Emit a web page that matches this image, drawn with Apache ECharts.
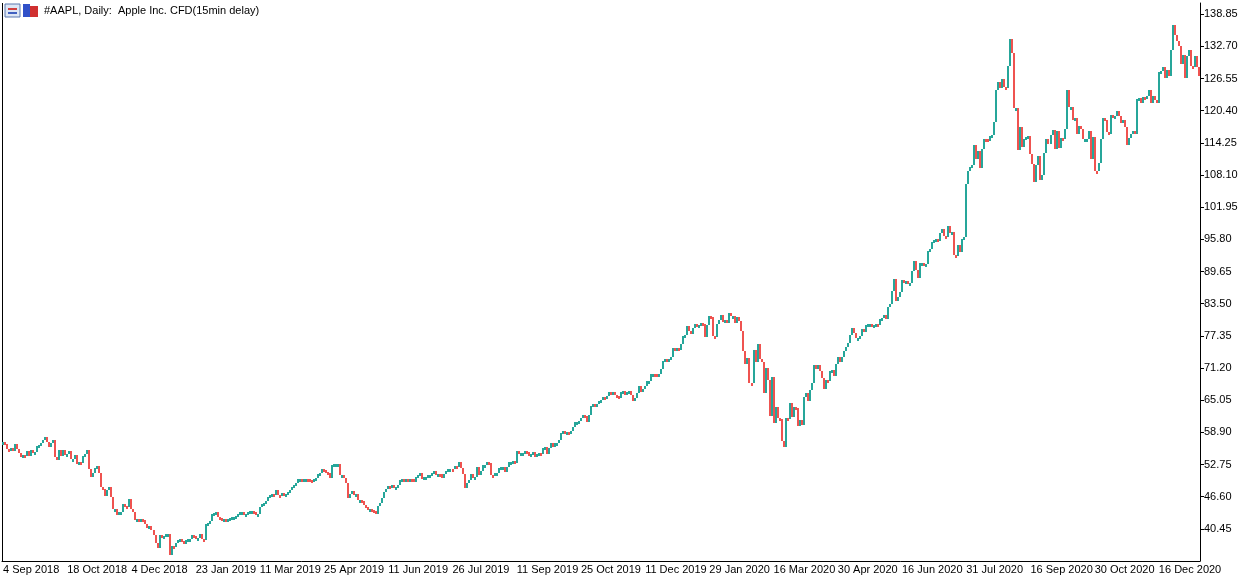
<!DOCTYPE html>
<html><head><meta charset="utf-8">
<script src="https://cdn.jsdelivr.net/npm/echarts@6/dist/echarts.min.js"></script>
<style>html,body{margin:0;padding:0;background:#fff}#c{width:1242px;height:577px}</style>
</head><body><div id="c"></div>
<script>
const tickLabels=["4 Sep 2018","18 Oct 2018","4 Dec 2018","23 Jan 2019","11 Mar 2019","25 Apr 2019","11 Jun 2019","26 Jul 2019","11 Sep 2019","25 Oct 2019","11 Dec 2019","29 Jan 2020","16 Mar 2020","30 Apr 2020","16 Jun 2020","31 Jul 2020","16 Sep 2020","30 Oct 2020","16 Dec 2020"];
const closes2018=[57.1,56.7,55.8,55.3,56.0,55.3,56.7,55.8,54.9,54.1,54.6,54.4,55.3,54.3,55.5,55.0,55.2,56.2,56.4,
56.8,57.4,58.0,57.0,56.1,56.8,57.5,54.1,53.6,55.5,54.3,55.6,54.5,54.8,55.4,53.8,53.8,54.6,52.8,53.3,53.0,54.3,54.7,
55.6,51.9,50.4,51.2,52.1,52.4,51.2,48.4,48.0,46.7,47.9,48.4,46.5,44.2,44.2,43.1,43.6,43.6,45.2,44.9,44.6,
46.2,44.2,43.7,42.1,42.4,42.3,42.3,42.2,41.4,40.7,41.0,40.2,39.2,37.7,36.7,39.3,39.0,39.1,39.4];
const closes2019=[39.5,35.5,37.1,37.0,37.7,38.3,38.5,38.1,37.5,38.3,38.5,38.6,39.2,39.1,38.6,38.7,39.4,38.5,38.3,41.3,41.6,
41.9,43.3,43.5,43.6,42.7,42.6,42.4,42.4,42.3,42.3,42.5,42.7,42.8,43.0,43.2,43.6,43.6,43.3,43.3,
43.7,43.9,43.9,43.6,43.1,43.2,44.7,45.2,45.4,45.7,46.5,46.9,47.2,46.9,47.8,47.0,46.7,47.3,47.0,47.2,47.5,
47.8,48.5,48.8,49.3,50.0,50.0,49.9,49.9,50.0,49.9,49.7,49.6,49.9,50.2,51.0,51.1,51.8,51.7,51.3,51.1,50.2,
52.6,52.8,52.9,52.9,50.7,50.7,50.2,49.3,46.4,47.1,47.6,47.0,47.2,45.9,46.0,45.8,45.1,44.7,44.1,44.3,44.1,43.8,
43.3,44.9,45.4,46.3,47.5,48.1,48.7,48.5,48.8,48.2,48.5,48.9,49.7,49.9,49.7,49.9,49.7,50.0,49.9,49.5,
50.4,50.7,51.1,50.0,50.3,50.4,50.8,50.8,51.1,51.5,50.8,51.0,50.9,50.1,51.0,51.6,51.8,51.9,51.8,52.4,52.2,53.3,
52.1,51.0,48.3,49.3,49.8,50.9,50.2,50.4,52.2,50.7,51.6,52.6,52.6,53.2,53.0,50.7,50.6,51.1,51.2,52.1,52.2,52.2,
51.4,52.3,53.3,53.3,53.5,53.1,55.3,54.7,54.9,55.0,55.3,55.1,54.4,54.7,55.2,54.2,54.7,55.0,54.7,56.0,
56.1,54.7,55.9,56.8,56.1,56.8,56.8,57.5,58.8,59.1,59.0,59.0,58.8,59.1,59.9,60.8,60.9,61.0,61.6,62.3,62.0,60.8,62.2,
64.0,64.4,64.3,64.3,64.9,65.0,65.6,65.5,65.8,66.6,66.4,66.6,66.1,65.8,65.4,66.6,66.8,66.0,66.6,66.8,
66.0,64.9,65.4,66.4,67.7,66.7,67.1,67.7,68.8,68.8,70.0,70.1,70.0,69.9,70.0,71.1,72.45,72.9,72.4,72.9,73.4];
const closes2020=[75.1,74.4,75.0,74.6,75.8,77.4,77.6,79.2,78.2,77.8,78.8,79.7,79.1,79.4,79.8,79.6,77.2,79.4,81.1,80.9,77.4,
77.2,79.7,80.4,81.3,80.0,80.4,79.9,81.8,81.2,81.2,79.8,81.0,80.1,78.3,74.5,72.0,73.2,68.4,68.3,
74.7,72.3,75.7,73.0,72.3,66.5,71.3,68.9,62.1,69.5,60.6,63.7,61.7,61.4,57.3,56.1,61.7,61.4,64.6,61.9,63.7,63.6,
60.2,61.2,60.4,65.6,66.5,64.9,67.0,68.3,71.8,71.1,71.7,70.7,69.2,67.1,69.0,68.8,70.7,70.8,69.6,71.9,73.4,
72.3,73.3,74.4,75.2,75.9,77.5,78.8,77.9,76.9,76.9,77.4,78.7,78.0,79.5,79.6,79.7,79.2,79.4,79.7,79.5,
80.5,80.8,81.3,80.6,82.9,83.4,86.0,88.2,84.0,84.7,85.7,88.0,87.9,87.9,87.4,87.4,89.7,91.6,90.0,88.4,91.2,91.2,
91.0,91.0,93.5,93.9,95.3,95.7,95.9,95.5,97.1,97.7,96.5,96.3,98.4,97.0,97.3,92.8,92.6,94.8,93.3,95.8,96.2,106.3,
108.9,109.7,110.1,113.9,111.1,112.7,109.4,113.0,115.0,114.9,114.6,115.6,115.7,118.3,124.4,125.9,124.8,126.5,125.0,124.8,129.0,
134.2,131.4,120.9,121.0,112.8,117.3,113.5,115.0,115.4,115.5,112.1,110.3,106.8,110.1,111.8,107.1,108.2,112.3,115.0,114.1,115.8,
116.8,113.0,116.5,113.2,115.1,115.0,117.0,124.4,121.1,121.2,118.7,119.0,116.0,117.5,116.9,115.0,115.0,115.05,116.6,111.2,115.3,108.9,
108.8,110.4,115.0,119.0,118.7,116.3,116.0,119.5,119.2,119.3,120.3,119.4,118.0,118.6,117.3,113.9,115.2,116.0,116.6,116.0,
122.7,122.9,121.9,123.1,122.9,123.2,124.4,121.8,123.2,122.4,121.8,127.9,128.0,128.7,126.7,128.2,127.0,132.0,136.7,134.9,133.7,132.7];
const closes2021=[129.4,131.0,126.6,130.9,132.05,129.0,128.8,130.9,128.8,127.1];
const yTicks=[40.45,46.60,52.75,58.90,65.05,71.20,77.35,83.50,89.65,95.80,101.95,108.10,114.25,120.40,126.55,132.70,138.85];

const closes=[...closes2018,...closes2019,...closes2020,...closes2021];
const holidays=["2018-11-22","2018-12-05","2018-12-25","2019-01-01","2019-01-21","2019-02-18","2019-04-19","2019-05-27","2019-07-04","2019-09-02","2019-11-28","2019-12-25","2020-01-01","2020-01-20","2020-02-17","2020-04-10","2020-05-25","2020-07-03","2020-09-07","2020-11-26","2020-12-25","2021-01-01"];
const dates=[];let d=new Date(Date.UTC(2018,8,4));
while(dates.length<closes.length){const s=d.toISOString().slice(0,10);const w=d.getUTCDay();if(w!==0&&w!==6&&!holidays.includes(s))dates.push(s);d=new Date(d.getTime()+86400000);}
const ohlc=closes.map((c,i)=>{const o=i?closes[i-1]:c;return [i,o,c];});
const labelAt={};tickLabels.forEach((t,k)=>labelAt[k*32]=t);
const F='"Liberation Sans", Arial, sans-serif';
const chart=echarts.init(document.getElementById('c'));
chart.setOption({animation:false,
grid:{left:2,right:42,top:3,bottom:16,containLabel:false},
graphic:[
{type:'rect',shape:{x:5,y:4,width:15,height:13},style:{fill:'#dde6f5',stroke:'#5a78b0'}},
{type:'rect',shape:{x:8,y:8,width:9,height:2},style:{fill:'#d04040'}},
{type:'rect',shape:{x:8,y:12,width:9,height:2},style:{fill:'#4060c0'}},
{type:'rect',shape:{x:23,y:4,width:7,height:13},style:{fill:'#3050c8'}},
{type:'rect',shape:{x:30,y:6,width:8,height:11},style:{fill:'#d03030'}},
{type:'text',left:44,top:5,style:{text:'#AAPL, Daily:  Apple Inc. CFD(15min delay)',font:'11px '+F,fill:'#000'}}
],
xAxis:{type:'category',data:dates,boundaryGap:true,
axisLine:{lineStyle:{color:'#000'}},
axisTick:{interval:(i)=>labelAt[i]!==undefined,length:5,lineStyle:{color:'#000'}},
axisLabel:{interval:(i)=>labelAt[i]!==undefined,hideOverlap:false,formatter:(v,i)=>labelAt[i]||'',align:'left',margin:3,color:'#000',fontSize:11,fontFamily:F},
splitLine:{show:false}},
yAxis:{type:'value',position:'right',min:34.30,max:141,interval:6.15,
axisLine:{show:true,lineStyle:{color:'#000'}},axisTick:{show:true,length:4,lineStyle:{color:'#000'}},
axisLabel:{showMinLabel:false,showMaxLabel:false,formatter:v=>v.toFixed(2),color:'#000',fontSize:11,fontFamily:F,margin:4},
splitLine:{show:false}},
series:[{type:'custom',data:ohlc,encode:{x:0,y:[1,2]},
renderItem:(p,api)=>{const i=api.value(0),o=api.value(1),c=api.value(2);
const a=api.coord([i,o]),b=api.coord([i,c]);const x=Math.round(a[0])-1;
let y1=Math.round(Math.min(a[1],b[1])),y2=Math.round(Math.max(a[1],b[1]));if(y2-y1<3)y2=y1+3;
return {type:'rect',shape:{x:x,y:y1,width:2,height:y2-y1},style:{fill:c>=o?'#26a69a':'#ef5350'}};}}]
});
chart.getZr().add(new echarts.graphic.Line({shape:{x1:2.5,y1:3,x2:2.5,y2:561},style:{stroke:'#000',lineWidth:1}}));
</script></body></html>
